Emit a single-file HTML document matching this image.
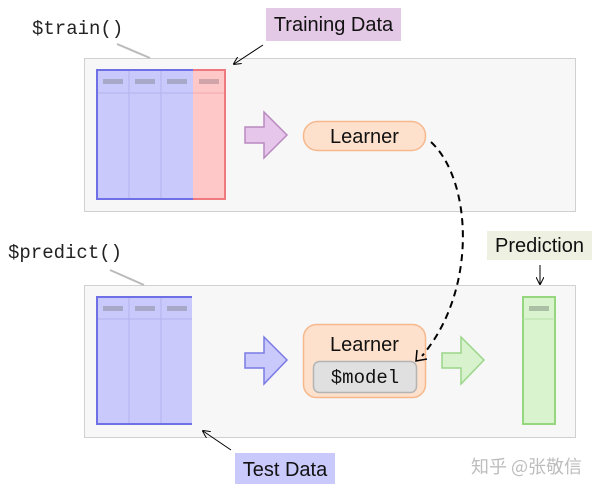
<!DOCTYPE html>
<html><head><meta charset="utf-8"><style>
html,body{margin:0;padding:0;background:#fff;width:600px;height:492px;overflow:hidden}
svg{display:block}
.s{font-family:"Liberation Sans",sans-serif}
.m{font-family:"Liberation Mono","DejaVu Sans Mono",monospace}
</style></head><body>
<svg width="600" height="492" viewBox="0 0 600 492" xmlns="http://www.w3.org/2000/svg">
<defs>
<marker id="ah" markerWidth="8" markerHeight="8" refX="7" refY="4" orient="auto" markerUnits="userSpaceOnUse"><path d="M0,0 L8,4 L0,8" fill="none" stroke="#000" stroke-width="1"/></marker>
</defs>
<rect x="84.5" y="58.5" width="491" height="153" fill="#f7f7f7" stroke="#d0d0d0"/>
<rect x="84.5" y="285.5" width="491" height="152" fill="#f7f7f7" stroke="#d0d0d0"/>
<text x="32" y="34" class="m" font-size="19" fill="#222">$train()</text>
<line x1="117" y1="44" x2="150" y2="58" stroke="#bbb" stroke-width="2"/>
<text x="8" y="258" class="m" font-size="19" fill="#222">$predict()</text>
<line x1="110" y1="270" x2="144" y2="285" stroke="#bbb" stroke-width="2"/>
<rect x="266" y="8" width="135" height="33" fill="#e3c9e6"/>
<text x="333.5" y="31" class="s" font-size="20" text-anchor="middle" fill="#111">Training Data</text>
<line x1="263" y1="45" x2="234" y2="64" stroke="#000" stroke-width="1" marker-end="url(#ah)"/>
<rect x="487" y="231" width="105" height="29" fill="#eef1e2"/>
<text x="539.5" y="252" class="s" font-size="20" text-anchor="middle" fill="#111">Prediction</text>
<line x1="540" y1="265" x2="540" y2="284" stroke="#000" stroke-width="1" marker-end="url(#ah)"/>
<rect x="235" y="453" width="100" height="31" fill="#c9c9fb"/>
<text x="285" y="476" class="s" font-size="20" text-anchor="middle" fill="#111">Test Data</text>
<line x1="231" y1="450" x2="203" y2="431" stroke="#000" stroke-width="1" marker-end="url(#ah)"/>
<rect x="97" y="70" width="96" height="129" fill="#c9c9fb"/>
<rect x="193" y="70" width="32" height="129" fill="#fec8c8"/>
<g stroke="#b4b4ee" stroke-width="1"><line x1="129" y1="70" x2="129" y2="199"/><line x1="161" y1="70" x2="161" y2="199"/><line x1="97" y1="93" x2="193" y2="93"/></g>
<line x1="193" y1="93" x2="225" y2="93" stroke="#f0aaaa"/>
<g fill="#a8a8c8"><rect x="103" y="79" width="20" height="5"/><rect x="135" y="79" width="20" height="5"/><rect x="167" y="79" width="20" height="5"/></g>
<rect x="199" y="79" width="20" height="5" fill="#d0a4a8"/>
<path d="M193,70 H97 V199 H193" fill="none" stroke="#6f6fe6" stroke-width="2"/>
<path d="M193,70 H225 V199 H193" fill="none" stroke="#ee7a80" stroke-width="2"/>
<path d="M245,127 H264 V112 L287,135 L264,158 V143 H245 Z" fill="#e6c6ea" stroke="#b98ac0" stroke-width="1.5"/>
<rect x="303.5" y="121.5" width="122" height="29" rx="14" fill="#fde1cc" stroke="#f6b88c" stroke-width="1.5"/>
<text x="364.5" y="143" class="s" font-size="20" text-anchor="middle" fill="#111">Learner</text>
<rect x="97" y="297" width="95" height="127" fill="#c9c9fb"/>
<g stroke="#b4b4ee" stroke-width="1"><line x1="129" y1="297" x2="129" y2="424"/><line x1="161" y1="297" x2="161" y2="424"/><line x1="97" y1="319" x2="192" y2="319"/></g>
<g fill="#a8a8c8"><rect x="103" y="306" width="20" height="5"/><rect x="135" y="306" width="20" height="5"/><rect x="167" y="306" width="20" height="5"/></g>
<path d="M192,297 H97 V424 H192" fill="none" stroke="#6f6fe6" stroke-width="2"/>
<path d="M245,353 H264 V337 L287,360 L264,384 V368 H245 Z" fill="#c9c9fb" stroke="#7a7ae6" stroke-width="1.5"/>
<rect x="303.5" y="324.5" width="122" height="73" rx="13" fill="#fde1cc" stroke="#f6b88c" stroke-width="1.5"/>
<text x="364.5" y="351" class="s" font-size="20" text-anchor="middle" fill="#111">Learner</text>
<rect x="313.5" y="361.5" width="103" height="31" rx="6" fill="#e0e0e0" stroke="#b4b4b4" stroke-width="1.5"/>
<text x="365" y="383" class="m" font-size="19" text-anchor="middle" fill="#111">$model</text>
<!-- dashed curve on top -->
<path d="M431,142 C472,180 478,290 422,356" fill="none" stroke="#000" stroke-width="2" stroke-dasharray="7,5"/>
<path d="M417,350 L416,361 L427,359" fill="none" stroke="#000" stroke-width="1.5"/>
<path d="M442,353 H461 V337 L484,360 L461,384 V368 H442 Z" fill="#d7f2cc" stroke="#9bd68a" stroke-width="1.5"/>
<rect x="523" y="297" width="32" height="127" fill="#d9f3cf" stroke="#95d67e" stroke-width="2"/>
<line x1="523" y1="319" x2="555" y2="319" stroke="#b8e0a8"/>
<rect x="529" y="306" width="20" height="5" fill="#aabfa4"/>
<text x="471" y="473" font-family="'Noto Sans CJK SC',sans-serif" font-size="18" fill="#bdbdbd">知乎 @张敬信</text>
</svg>
</body></html>
